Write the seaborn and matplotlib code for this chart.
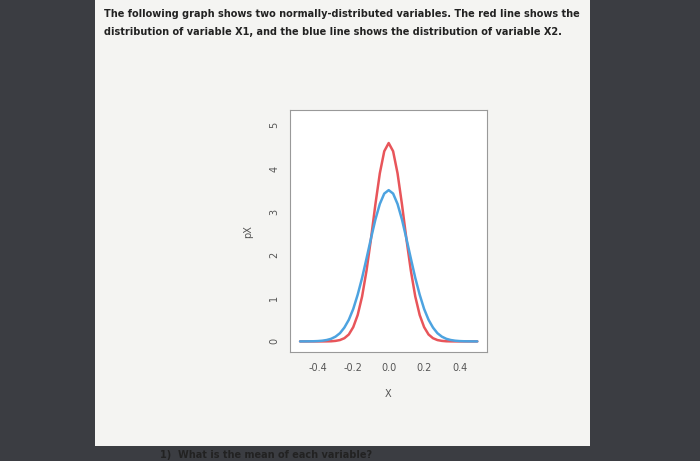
import matplotlib
matplotlib.use("Agg")
import matplotlib.pyplot as plt
import seaborn as sns
import pandas as pd

# density values (symmetric about 0)
half_x = [0.0, 0.025, 0.05, 0.075, 0.1, 0.125, 0.15, 0.175, 0.2, 0.225, 0.25,
          0.275, 0.3, 0.325, 0.35, 0.375, 0.4, 0.425, 0.45, 0.475, 0.5]
red_half = [4.59, 4.40, 3.89, 3.17, 2.37, 1.64, 1.04, 0.61, 0.33, 0.16, 0.074,
            0.031, 0.012, 0.003, 0.001, 0.0, 0.0, 0.0, 0.0, 0.0, 0.0]
blue_half = [3.50, 3.42, 3.18, 2.82, 2.38, 1.92, 1.47, 1.08, 0.75, 0.50, 0.32,
             0.19, 0.11, 0.06, 0.032, 0.016, 0.0075, 0.003, 0.0015, 0.0005, 0.0]

x_vals = [-v for v in half_x[:0:-1]] + half_x
red_vals = red_half[:0:-1] + red_half
blue_vals = blue_half[:0:-1] + blue_half
df = pd.DataFrame({"x": x_vals * 2, "px": red_vals + blue_vals,
                   "var": ["X1"] * len(x_vals) + ["X2"] * len(x_vals)})

x_ticks = [-0.4, -0.2, 0.0, 0.2, 0.4]
x_labels = ["-0.4", "-0.2", "0.0", "0.2", "0.4"]
y_ticks = [0, 1, 2, 3, 4, 5]

sns.set_style("white")
fig = plt.figure(figsize=(7, 4.61), dpi=100)
fig.patch.set_facecolor("#3b3d42")

# light page panel behind everything
bg = fig.add_axes([95 / 700, 15 / 461, 495 / 700, 446 / 461], zorder=0)
bg.set_facecolor("#f4f4f2")
bg.set_xticks([])
bg.set_yticks([])
for s in bg.spines.values():
    s.set_visible(False)

fig.text(104 / 700, 1 - 14 / 461,
         "The following graph shows two normally-distributed variables. The red line shows the",
         fontsize=7.0, fontweight="bold", color="#222222", va="center", zorder=5)
fig.text(104 / 700, 1 - 32 / 461,
         "distribution of variable X1, and the blue line shows the distribution of variable X2.",
         fontsize=7.0, fontweight="bold", color="#222222", va="center", zorder=5)
fig.text(160 / 700, 1 - 455 / 461, "1)  What is the mean of each variable?",
         fontsize=7, fontweight="bold", color="#222222", va="center", zorder=5)

ax = fig.add_axes([0.414, 0.236, 0.281, 0.525], zorder=2)
ax.set_facecolor("white")
sns.lineplot(data=df, x="x", y="px", hue="var", palette=["#e8555a", "#4da3e0"],
             linewidth=1.8, legend=False, ax=ax)
ax.set_xlim(-0.558, 0.552)
ax.set_ylim(-0.25, 5.35)
for s in ax.spines.values():
    s.set_color("#999999")
    s.set_linewidth(0.8)
ax.set_xticks(x_ticks)
ax.set_xticklabels(x_labels, fontsize=7, color="#555555")
ax.set_yticks(y_ticks)
ax.set_yticklabels([str(v) for v in y_ticks], fontsize=7, color="#555555", rotation=90, va="center")
ax.tick_params(length=4, color="#777777", direction="out")
ax.set_xlabel("X", fontsize=7, color="#555555", labelpad=12)
ax.set_ylabel("pX", fontsize=7, color="#555555", labelpad=12)
fig.savefig("out.png", dpi=100, facecolor=fig.get_facecolor())
